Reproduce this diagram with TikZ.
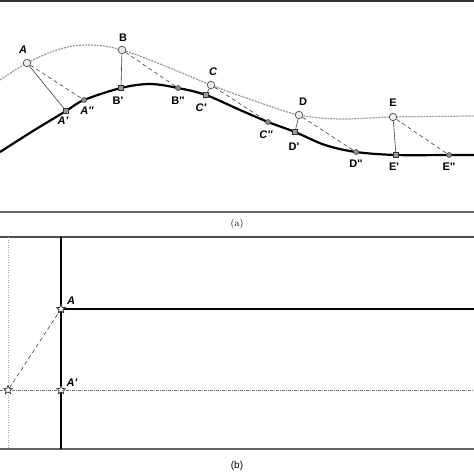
\documentclass[tikz,border=0pt]{standalone}
\usepackage{fontspec}
\setsansfont{Liberation Sans}
\usetikzlibrary{shapes.geometric}
\newcommand{\pr}{\textquotesingle}
\tikzset{
  circmark/.style={circle,draw=black!70,fill=black!8,line width=0.7pt,inner sep=0pt,minimum size=7.5pt},
  sqmark/.style={rectangle,draw=black!80,fill=black!40,line width=0.6pt,inner sep=0pt,minimum size=5.5pt},
  dotmark/.style={circle,draw=black!75,fill=black!45,line width=0.5pt,inner sep=0pt,minimum size=5pt},
  starmark/.style={star,star points=5,star point ratio=2.3,draw=black!85,fill=white,line width=0.6pt,inner sep=0pt,minimum size=9pt},
  lbl/.style={font=\sffamily\bfseries\fontsize{11}{11}\selectfont,inner sep=0pt},
  lbli/.style={font=\sffamily\bfseries\itshape\fontsize{11}{11}\selectfont,inner sep=0pt},
  thinlink/.style={black!75,line width=0.6pt},
  dashlink/.style={black!75,line width=0.6pt,dash pattern=on 4pt off 3pt},
  road/.style={black,line width=2.2pt},
  ghost/.style={black!40,line width=1.2pt,dash pattern=on 2pt off 1pt}
}
\begin{document}
\begin{tikzpicture}[x=1pt,y=-1pt]
\useasboundingbox (0,0) rectangle (474,474);
\fill[white] (0,0) rectangle (474,474);
% panel frames
\draw[black!80,line width=2pt] (0,1) -- (474,1);
\draw[black!60,line width=1.2pt] (0,212) -- (474,212);
\draw[black!70,line width=2.5pt] (0,237) -- (474,237);
\draw[black!60,line width=1.5pt] (0,449) -- (474,449);
\node[font=\rmfamily\fontsize{10}{10}\selectfont] (capa) at (237,224) {(a)};
\node[font=\sffamily\fontsize{10}{10}\selectfont] (capb) at (237,466) {(b)};
% ----- panel (a)
\draw[ghost] plot[smooth,tension=0.6] coordinates {(0,80) (27,63) (60,49) (90,45) (122,50) (165,66) (211,85) (255,101) (299,115) (340,119) (393,117) (474,116)};
\draw[road] plot[smooth,tension=0.55] coordinates {(0,152) (33,131) (66,111) (84,100) (121,88) (150,84) (178,88) (206,95) (240,110) (268,122) (295,132) (325,145) (356,152) (396,155) (449,155) (474,155)};
% markers upper
\node[circmark] (A) at (27,63) {};
\node[circmark] (B) at (122,50) {};
\node[circmark] (C) at (211,85) {};
\node[circmark] (D) at (299,115) {};
\node[circmark] (E) at (393,117) {};
% markers prime
\node[sqmark] (A1) at (66,111) {};
\node[sqmark] (B1) at (121,88) {};
\node[sqmark] (C1) at (206,95) {};
\node[sqmark] (D1) at (295,132) {};
\node[sqmark] (E1) at (396,155) {};
% markers double prime
\node[dotmark] (A2) at (84,100) {};
\node[dotmark] (B2) at (178,88) {};
\node[dotmark] (C2) at (268,122) {};
\node[dotmark] (D2) at (356,152) {};
\node[dotmark] (E2) at (449,155) {};
% links
\draw[thinlink] (A) -- (A1);
\draw[thinlink] (B) -- (B1);
\draw[thinlink] (C) -- (C1);
\draw[thinlink] (D) -- (D1);
\draw[thinlink] (E) -- (E1);
\draw[dashlink] (A) -- (A2);
\draw[dashlink] (B) -- (B2);
\draw[dashlink] (C) -- (C2);
\draw[dashlink] (D) -- (D2);
\draw[dashlink] (E) -- (E2);
% labels
\node[lbli] (lA) at (23,50) {A};
\node[lbl] (lB) at (123,38) {B};
\node[lbli] (lC) at (213,72) {C};
\node[lbl] (lD) at (303,102) {D};
\node[lbl] (lE) at (393,103) {E};
\node[lbli] (lA1) at (63,121) {A\pr};
\node[lbl] (lB1) at (118,101) {B\pr};
\node[lbli] (lC1) at (201,108) {C\pr};
\node[lbl] (lD1) at (294,147) {D\pr};
\node[lbl] (lE1) at (394,167) {E\pr};
\node[lbli] (lA2) at (87,111) {A\pr\pr};
\node[lbl] (lB2) at (178,101) {B\pr\pr};
\node[lbli] (lC2) at (266,135) {C\pr\pr};
\node[lbl] (lD2) at (356,164) {D\pr\pr};
\node[lbl] (lE2) at (449,167) {E\pr\pr};
% ----- panel (b)
\coordinate (vt) at (8,237);
\coordinate (vb) at (8,449);
\draw[black!35,line width=0.7pt,dash pattern=on 1pt off 1.5pt] (vt) -- (vb);
\coordinate (pt) at (61,237);
\coordinate (pb) at (61,449);
\draw[black,line width=2pt] (pt) -- (pb);
\coordinate (hr) at (474,309);
\coordinate (hl) at (0,390);
\coordinate (hr2) at (474,390);
\draw[black!55,line width=0.9pt,dash pattern=on 3pt off 1pt on 1pt off 1pt] (hl) -- (hr2);
\node[starmark] (SA) at (61,309) {};
\draw[black,line width=2pt] (SA.center) -- (hr);
\node[starmark] (SA1) at (61,390) {};
\node[starmark] (S0) at (8,390) {};
\draw[dashlink] (S0) -- (SA);
\node[starmark] at (61,309) {};
\node[lbli] (lbA) at (71,301) {A};
\node[lbli] (lbA1) at (72,383) {A\pr};
\end{tikzpicture}
\end{document}
